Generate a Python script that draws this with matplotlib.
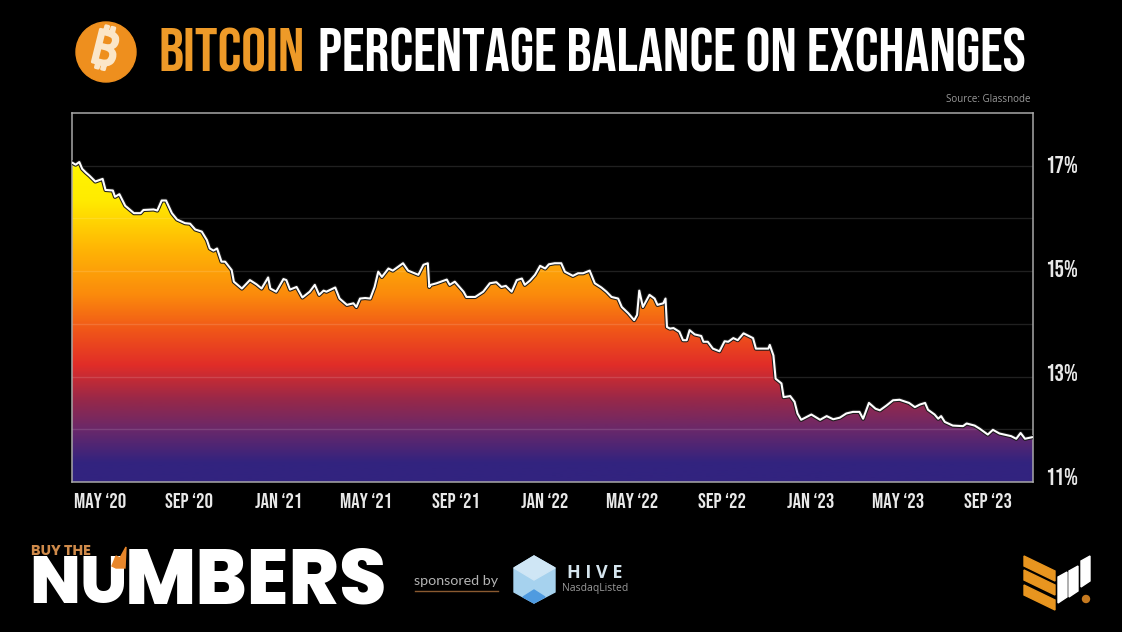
import matplotlib
matplotlib.use('Agg')
import matplotlib.pyplot as plt
import matplotlib.dates as mdates
import matplotlib.patheffects as pe
from matplotlib.colors import LinearSegmentedColormap
from matplotlib.patches import Circle, Polygon
from matplotlib.transforms import ScaledTranslation
import numpy as np
import pandas as pd
import logging
logging.getLogger('matplotlib.font_manager').setLevel(logging.ERROR)

NARROW = ['Bebas Neue', 'Anton', 'Roboto', 'DejaVu Sans']
WIDE = ['Poppins', 'Lato', 'DejaVu Sans']

start_date = '2020-03-24'
days = [0, 5, 10, 14, 19, 24, 32, 42, 46, 56, 59, 65, 73, 85, 94, 98, 112, 117, 123, 129,
        137, 144, 155, 162, 169, 178, 185, 189, 194, 199, 205, 210, 219, 222, 233, 244, 253, 260, 269, 272,
        280, 290, 294, 299, 308, 316, 326, 333, 339, 345, 349, 361, 367, 377, 386, 390, 395, 402, 409, 415,
        420, 425, 434, 440, 454, 461, 475, 482, 488, 490, 492, 500, 514, 518, 525, 537, 541, 553, 564, 573,
        582, 589, 595, 603, 610, 617, 621, 628, 635, 642, 649, 654, 662, 671, 676, 687, 694, 701, 710, 717,
        726, 733, 740, 749, 754, 763, 771, 775, 778, 783, 792, 799, 803, 811, 814, 816, 820, 825, 833, 838,
        843, 847, 854, 863, 866, 872, 879, 888, 895, 900, 907, 913, 921, 934, 938, 955, 957, 962, 965, 973,
        976, 985, 991, 995, 1000, 1014, 1026, 1035, 1044, 1053, 1062, 1071, 1080, 1085, 1093, 1102, 1108, 1117, 1126, 1135,
        1148, 1156, 1163, 1170, 1174, 1183, 1188, 1192, 1197, 1208, 1222, 1227, 1238, 1245, 1256, 1263, 1272, 1288, 1295, 1301,
        1307, 1317]
balance = [17.06, 17.02, 17.07, 16.94, 16.87, 16.81, 16.70, 16.75, 16.54, 16.53, 16.41, 16.46, 16.24, 16.10, 16.10, 16.16, 16.17, 16.15, 16.34, 16.34,
           16.10, 15.98, 15.91, 15.90, 15.79, 15.75, 15.59, 15.43, 15.39, 15.43, 15.18, 15.18, 15.02, 14.80, 14.67, 14.83, 14.75, 14.67, 14.88, 14.67,
           14.61, 14.85, 14.83, 14.65, 14.70, 14.50, 14.61, 14.74, 14.55, 14.63, 14.61, 14.69, 14.48, 14.36, 14.39, 14.32, 14.48, 14.49, 14.48, 14.70,
           14.99, 14.89, 15.05, 15.01, 15.15, 15.01, 14.93, 15.12, 15.15, 14.70, 14.74, 14.77, 14.84, 14.74, 14.80, 14.61, 14.51, 14.51, 14.61, 14.77,
           14.79, 14.70, 14.72, 14.61, 14.83, 14.86, 14.74, 14.82, 14.93, 15.10, 15.05, 15.13, 15.15, 15.15, 14.99, 14.91, 14.96, 14.96, 15.01, 14.77,
           14.69, 14.61, 14.51, 14.48, 14.32, 14.20, 14.07, 14.17, 14.63, 14.32, 14.55, 14.48, 14.36, 14.39, 14.48, 13.94, 13.91, 13.92, 13.85, 13.69,
           13.69, 13.88, 13.80, 13.77, 13.66, 13.66, 13.53, 13.48, 13.67, 13.66, 13.73, 13.69, 13.82, 13.73, 13.53, 13.53, 13.60, 13.40, 12.96, 12.87,
           12.61, 12.63, 12.52, 12.30, 12.18, 12.28, 12.18, 12.25, 12.19, 12.22, 12.30, 12.33, 12.33, 12.20, 12.50, 12.39, 12.36, 12.45, 12.55, 12.56,
           12.50, 12.42, 12.47, 12.50, 12.37, 12.28, 12.20, 12.25, 12.14, 12.07, 12.06, 12.11, 12.07, 12.01, 11.90, 11.99, 11.92, 11.87, 11.82, 11.93,
           11.82, 11.85]

x_tick_dates = ['2020-05-01', '2020-09-01', '2021-01-01', '2021-05-01', '2021-09-01', '2022-01-01',
                '2022-05-01', '2022-09-01', '2023-01-01', '2023-05-01', '2023-09-01']
x_tick_labels = ["MAY ‘20", "SEP ‘20", "JAN ‘21", "MAY ‘21", "SEP ‘21", "JAN ‘22",
                 "MAY ‘22", "SEP ‘22", "JAN ‘23", "MAY ‘23", "SEP ‘23"]
y_ticks = [11, 13, 15, 17]
y_tick_labels = ['11%', '13%', '15%', '17%']
grid_levels = [12, 13, 14, 15, 16, 17]

fig = plt.figure(figsize=(11.22, 6.32), dpi=100, facecolor='black')
ax = fig.add_axes([72 / 1122, 1 - 482 / 632, 961 / 1122, 369 / 632], facecolor='black')

dates = pd.Timestamp(start_date) + pd.to_timedelta(days, unit='D')
x = mdates.date2num(dates)
x0, x1 = x[0], mdates.date2num(pd.Timestamp(start_date) + pd.Timedelta(days=1318))
x_full = np.append(x, x1)
y_full = np.append(balance, balance[-1])

# gradient fill under the line, clipped to the area
cmap = LinearSegmentedColormap.from_list('heat', [
    (0.0, '#32237f'), (0.05, '#32237f'), (0.14, '#69286a'), (0.22, '#96284a'),
    (0.317, '#e12d28'), (0.41, '#f05519'), (0.507, '#fb8a0c'), (0.63, '#ffb405'),
    (0.764, '#ffeb00'), (0.86, '#fff500'), (1.0, '#fff500')])
area = ax.fill_between(x_full, 11, y_full, color='none', lw=0)
img = ax.imshow(np.linspace(1, 0, 256).reshape(-1, 1), cmap=cmap, aspect='auto',
                extent=[x0, x1, 11, 18], zorder=1, vmin=0, vmax=1)
img.set_clip_path(area.get_paths()[0], transform=ax.transData)

for level in grid_levels:
    ax.axhline(level, color='white', alpha=0.13, lw=1, zorder=2)

ax.plot(x_full, y_full, color='white', lw=1.5, zorder=3, solid_joinstyle='round',
        path_effects=[pe.Stroke(linewidth=3, foreground='#1a1a1a'), pe.Normal()])

ax.set_xlim(x0, x1)
ax.set_ylim(11, 18)
ax.set_xticks(mdates.date2num(pd.to_datetime(x_tick_dates)))
ax.set_xticklabels(x_tick_labels, family=NARROW, fontsize=15, color='#e8e8e8')
ax.yaxis.tick_right()
ax.set_yticks(y_ticks)
ax.set_yticklabels(y_tick_labels, family=NARROW, fontsize=17, color='#e8e8e8')
ax.tick_params(axis='x', length=0, pad=8)
ax.tick_params(axis='y', length=0, pad=9)
for lab, up in zip(ax.get_yticklabels(), [6, 4, 3, 1.5]):
    lab.set_transform(lab.get_transform() + ScaledTranslation(0, up / 100, fig.dpi_scale_trans))
for s in ax.spines.values():
    s.set_color('#a8a8a8')
    s.set_linewidth(1.1)

# overlay in pixel coordinates for header and footer
ov = fig.add_axes([0, 0, 1, 1], facecolor='none')
ov.set_xlim(0, 1122)
ov.set_ylim(632, 0)
ov.axis('off')

ov.add_patch(Circle((106, 52), 30, color='#ee8f1e'))
ov.text(104, 52, '₿', family=['Noto Sans', 'Inter', 'Roboto', 'DejaVu Sans'], fontweight='bold', fontsize=34,
        color='#fbe6c8', ha='center', va='center', rotation=-14,
        path_effects=[pe.Stroke(linewidth=2, foreground='#fbe6c8'), pe.Normal()])

ov.text(159, 72, 'BITCOIN', family=NARROW, fontsize=44.8, color='#ee9a28', va='baseline')
ov.text(318, 72, 'PERCENTAGE BALANCE ON EXCHANGES', family=NARROW, fontsize=44.8,
        color='white', va='baseline')
ov.text(1031, 100, 'Source: Glassnode', family='Open Sans', fontsize=7, color='#9a9a9a', ha='right', va='center')

# the logo has a lower N-U under BUY THE, then taller letters
ov.text(31, 555, 'BUY THE', family=WIDE, fontweight='bold', fontsize=10.5, color='#cf8a4a', va='baseline')
ov.text(29, 603, 'NU', family=WIDE, fontweight=800, fontsize=48, color='white', va='baseline')
ov.text(125, 603, 'MBERS', family=WIDE, fontweight=800, fontsize=55, color='white', va='baseline')
ov.add_patch(Polygon([(112, 566), (116, 556), (120, 558), (126, 547), (125, 568), (116, 568)], color='#e8862a', zorder=5))

ov.text(414, 581, 'sponsored by', family='Lato', fontsize=10.3, color='#b4b4b4', va='center')
ov.plot([415, 498], [591, 591], color='#8a5a30', lw=1)

ov.add_patch(Polygon([(534, 556), (555, 568), (555, 592), (534, 603), (514, 592), (514, 568)], color='#a6d2ee'))
ov.add_patch(Polygon([(534, 556), (555, 568), (534, 580), (514, 568)], color='#cfe6f5'))
ov.add_patch(Polygon([(534, 590), (545, 597), (534, 603), (523, 597)], color='#4f9be0'))
ov.text(595, 573, 'H I V E', family='Open Sans', fontweight='bold', fontsize=13, color='#d5e5ee', ha='center', va='center')
ov.text(595, 589, 'NasdaqListed', family='Open Sans', fontsize=7.5, color='#9a9a9a', ha='center', va='center')

for top in [556, 570, 585]:
    ov.add_patch(Polygon([(1024, top), (1055, top + 15), (1055, top + 25), (1024, top + 10)], color='#e8951f'))
for left, top in [(1058, 572), (1069, 566), (1081, 556)]:
    ov.add_patch(Polygon([(left, top + 5), (left + 9, top), (left + 9, top + 25), (left, top + 31)], color='white'))
ov.add_patch(Circle((1086, 599), 3.5, color='#c67a20'))

fig.savefig('out.png', dpi=100, facecolor='black')
